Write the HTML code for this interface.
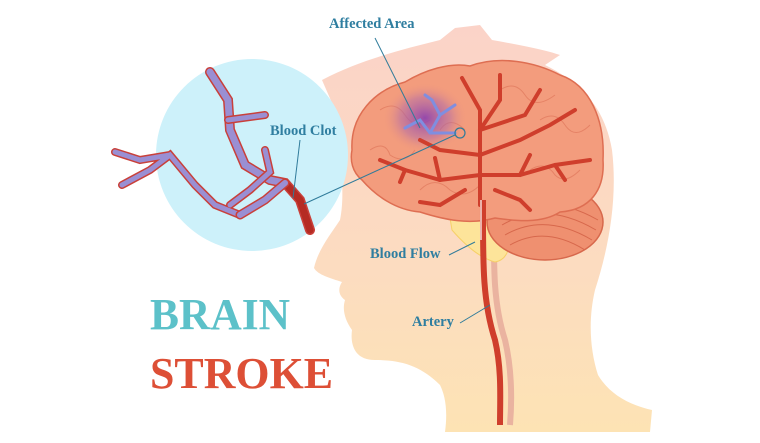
<!DOCTYPE html>
<html><head><meta charset="utf-8"><style>
html,body{margin:0;padding:0;background:#fff;width:760px;height:443px;overflow:hidden}
svg{display:block}
text{font-family:"Liberation Serif",serif;font-weight:bold}
</style></head><body>
<svg width="760" height="443" viewBox="0 0 760 443" xmlns="http://www.w3.org/2000/svg">
<defs>
<linearGradient id="head" x1="0" y1="0" x2="0" y2="1">
<stop offset="0" stop-color="#fbd3c8"/><stop offset="0.6" stop-color="#fcdcc0"/><stop offset="1" stop-color="#fde3b4"/>
</linearGradient>
<radialGradient id="purp" cx="0.5" cy="0.5" r="0.5">
<stop offset="0" stop-color="#8a3fb0" stop-opacity="0.9"/><stop offset="0.6" stop-color="#b06aa8" stop-opacity="0.5"/><stop offset="1" stop-color="#f1977a" stop-opacity="0"/>
</radialGradient>
</defs>
<!-- head -->
<path d="M322,80 C360,60 400,50 440,40 L455,28 L480,25 L492,40 C520,45 545,50 560,55 L545,65 C585,85 605,110 612,150 C618,200 608,250 595,290 C588,320 590,350 598,375 C610,395 630,405 652,410 L650,432 L445,432 C448,410 445,395 440,385 C420,365 400,360 375,360 C355,360 350,345 352,330 C345,320 342,310 345,300 C338,295 338,288 342,282 C330,278 318,275 314,268 C318,250 330,235 340,220 C345,195 340,175 343,155 C345,130 335,110 322,80 Z" fill="url(#head)"/>
<circle cx="252" cy="155" r="96" fill="#cdf1fa"/>
<!-- spinal pale line -->
<path d="M494,205 C494,260 492,300 505,340 C512,370 512,400 510,425" stroke="#eab3a0" stroke-width="6" fill="none"/>
<!-- brainstem yellow -->
<path d="M450,218 C470,215 500,215 510,225 C512,245 508,260 495,262 C480,258 465,245 452,230 Z" fill="#fde49a" stroke="#f6d068" stroke-width="1"/>
<!-- cerebellum -->
<ellipse cx="545" cy="222" rx="58" ry="38" fill="#ef9070" stroke="#d7684c" stroke-width="1.5"/>
<g stroke="#d7684c" fill="none" stroke-width="1"><path d="M500,215 Q545,190 598,220"/><path d="M502,225 Q545,200 596,230"/><path d="M505,235 Q545,212 592,240"/><path d="M510,245 Q545,225 585,250"/></g>
<!-- brain -->
<path d="M352,150 C350,115 375,90 405,82 C425,70 450,62 470,66 C500,55 535,62 560,75 C590,85 605,120 603,160 C605,190 590,210 560,212 C540,225 510,220 495,218 C470,225 445,220 420,212 C395,210 375,195 362,180 C352,172 350,160 352,150 Z" fill="#f39c7d" stroke="#de6e52" stroke-width="1.5"/>
<g stroke="#e27c60" fill="none" stroke-width="1" opacity="0.8">
<path d="M380,110 q15,-10 25,5 q10,15 25,5"/><path d="M370,150 q15,-10 20,5 q15,10 25,-5"/><path d="M420,190 q15,-15 30,0 q15,10 30,-5"/><path d="M500,90 q15,-10 25,5 q10,15 30,0"/><path d="M540,120 q15,-10 25,5 q10,15 25,0"/><path d="M530,170 q15,-10 25,5 q10,10 25,-5"/><path d="M440,130 q10,-15 25,0"/></g>
<ellipse cx="425" cy="118" rx="42" ry="35" fill="url(#purp)"/>
<!-- brain arteries -->
<g stroke="#cf3e2c" stroke-width="4" fill="none" stroke-linecap="round">
<path d="M480,205 L480,110 L462,78"/><path d="M480,130 L500,100 L500,75"/><path d="M480,175 L440,180 L405,170 L380,160"/><path d="M480,175 L520,175 L555,165 L590,160"/><path d="M480,155 L520,140 L550,125 L575,110"/><path d="M480,155 L440,150 L420,140"/><path d="M480,130 L525,115 L540,90"/><path d="M465,190 L440,205 L420,202"/><path d="M495,190 L520,200 L530,210"/><path d="M440,180 L435,158"/><path d="M520,175 L530,155"/><path d="M555,165 L565,180"/><path d="M405,170 L400,182"/>
</g>
<g stroke="#7f8ee0" stroke-width="3" fill="none" stroke-linecap="round"><path d="M455,133 L430,133 L420,120 L405,128"/><path d="M430,133 L440,115 L432,100 L425,95"/><path d="M440,115 L455,105"/></g>
<circle cx="460" cy="133" r="5" fill="none" stroke="#2f7b9a" stroke-width="1.2"/>
<!-- neck artery -->
<path d="M483,200 C483,260 482,300 495,340 C502,370 500,400 500,425" stroke="#cf3e2c" stroke-width="6" fill="none"/>
<path d="M481,200 L481,240" stroke="#fff" stroke-width="1.2"/>
<!-- circle vessels -->
<g stroke-linecap="round" fill="none">
<path d="M210,72 L228,100 L230,130 L245,165 L270,180 L285,183 L300,200 L310,230" stroke="#c9403a" stroke-width="10"/>
<path d="M210,72 L228,100 L230,130 L245,165 L270,180 L285,183" stroke="#9a8fd3" stroke-width="7"/>
<path d="M285,183 L300,200 L310,230" stroke="#b52b23" stroke-width="7"/>
<path d="M240,215 L215,205 L195,185 L170,155 L150,170 L122,185 M170,155 L140,160 L115,152 M265,150 L270,172 L250,190 L230,205 M228,120 L265,115" stroke="#c9403a" stroke-width="8"/>
<path d="M240,215 L215,205 L195,185 L170,155 L150,170 L122,185 M170,155 L140,160 L115,152 M265,150 L270,172 L250,190 L230,205 M228,120 L265,115" stroke="#9a8fd3" stroke-width="5"/>
<path d="M240,215 L265,200 L285,183" stroke="#c9403a" stroke-width="9"/>
<path d="M240,215 L265,200 L285,183" stroke="#9a8fd3" stroke-width="6"/>
</g>
<!-- leader lines -->
<g stroke="#2f7b9a" stroke-width="1" fill="none">
<path d="M375,38 L420,128"/><path d="M300,140 L293,198"/><path d="M304,204 L455,135"/><path d="M449,255 L475,242"/><path d="M460,323 L490,305"/>
</g>
<g fill="#2f7ea0" font-size="14.5">
<text x="329" y="28">Affected Area</text>
<text x="270" y="135">Blood Clot</text>
<text x="370" y="258">Blood Flow</text>
<text x="412" y="326">Artery</text>
</g>
<text x="150" y="329" font-size="44" fill="#5cc1c9" textLength="140" lengthAdjust="spacingAndGlyphs">BRAIN</text>
<text x="150" y="388" font-size="44" fill="#dd4f36" textLength="183" lengthAdjust="spacingAndGlyphs">STROKE</text>
</svg>
</body></html>
